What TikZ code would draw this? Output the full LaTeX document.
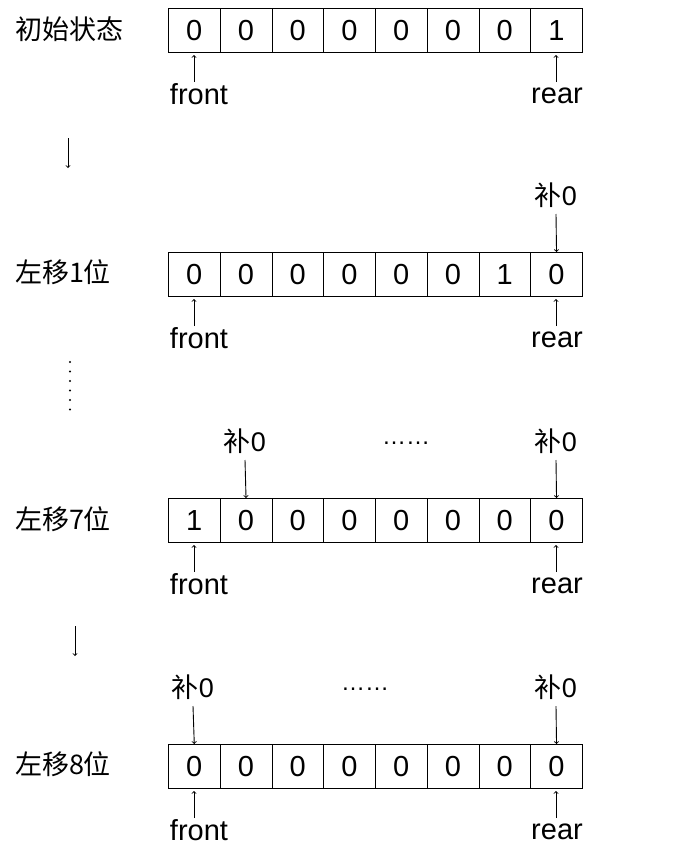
\documentclass[tikz,border=0pt]{standalone}
\usepackage{fontspec}
\setmainfont{Liberation Sans}
\newfontfamily\cjk{Noto Sans CJK SC}
\begin{document}
\begin{tikzpicture}[x=1pt,y=-1pt,
  cellbox/.style={draw,line width=0.8pt,minimum width=51.75pt,minimum height=44pt,inner sep=0pt,anchor=north west,font=\fontsize{29}{30}\selectfont},
  lbl/.style={font=\fontsize{29}{30}\selectfont,inner sep=0pt},
  clbl/.style={font=\cjk\fontsize{27}{30}\selectfont,inner sep=0pt},
  arr/.style={-to,line width=0.9pt}]
\useasboundingbox (0,0) rectangle (690,862);
% rows
\foreach \r/\yy/\vals in {1/8/{0,0,0,0,0,0,0,1},2/252/{0,0,0,0,0,0,1,0},3/498/{1,0,0,0,0,0,0,0},4/744/{0,0,0,0,0,0,0,0}}{
  \foreach \v [count=\i] in \vals {
    \node[cellbox] (c\r\i) at ({168+(\i-1)*51.75},\yy) {\v};
  }
  \coordinate (fb\r) at ({194},{\yy+74});
  \coordinate (fa\r) at ({194},{\yy+47});
  \coordinate (rb\r) at ({556},{\yy+74});
  \coordinate (ra\r) at ({556},{\yy+47});
  \draw[arr] (fb\r) -- (fa\r);
  \draw[arr] (rb\r) -- (ra\r);
  \node[lbl] (front\r) at (199,{\yy+86}) {front};
  \node[lbl] (rear\r) at (557,{\yy+88}) {rear};
}
% row labels
\node[clbl] (l1) at (70,29) {初始状态};
\node[clbl] (l2) at (63,272) {左移1位};
\node[clbl] (l3) at (63,519) {左移7位};
\node[clbl] (l4) at (63,764) {左移8位};
% left arrows
\coordinate (d1a) at (68,138); \coordinate (d1b) at (68,168);
\draw[arr] (d1a) -- (d1b);
\coordinate (d2a) at (75,626); \coordinate (d2b) at (75,656);
\draw[arr] (d2a) -- (d2b);
\foreach \k in {0,...,5} \fill (70,{362+\k*9.5}) circle (1.2);
% fill zero labels
\node[clbl,font=\fontsize{27}{30}\selectfont] (p2) at (556,195) {{\cjk 补}0};
\draw[arr] (556,214) -- (c28.north);
\node[clbl,font=\fontsize{27}{30}\selectfont] (p3a) at (245,441) {{\cjk 补}0};
\draw[arr] (245,460) -- (c32.north);
\node[clbl,font=\fontsize{27}{30}\selectfont] (p3b) at (556,441) {{\cjk 补}0};
\draw[arr] (556,460) -- (c38.north);
\node[lbl,font=\fontsize{24}{26}\selectfont] (e3) at (406,443) {……};
\node[clbl,font=\fontsize{27}{30}\selectfont] (p4a) at (193,687) {{\cjk 补}0};
\draw[arr] (193,706) -- (c41.north);
\node[clbl,font=\fontsize{27}{30}\selectfont] (p4b) at (556,687) {{\cjk 补}0};
\draw[arr] (556,706) -- (c48.north);
\node[lbl,font=\fontsize{24}{26}\selectfont] (e4) at (365,689) {……};
\end{tikzpicture}
\end{document}
